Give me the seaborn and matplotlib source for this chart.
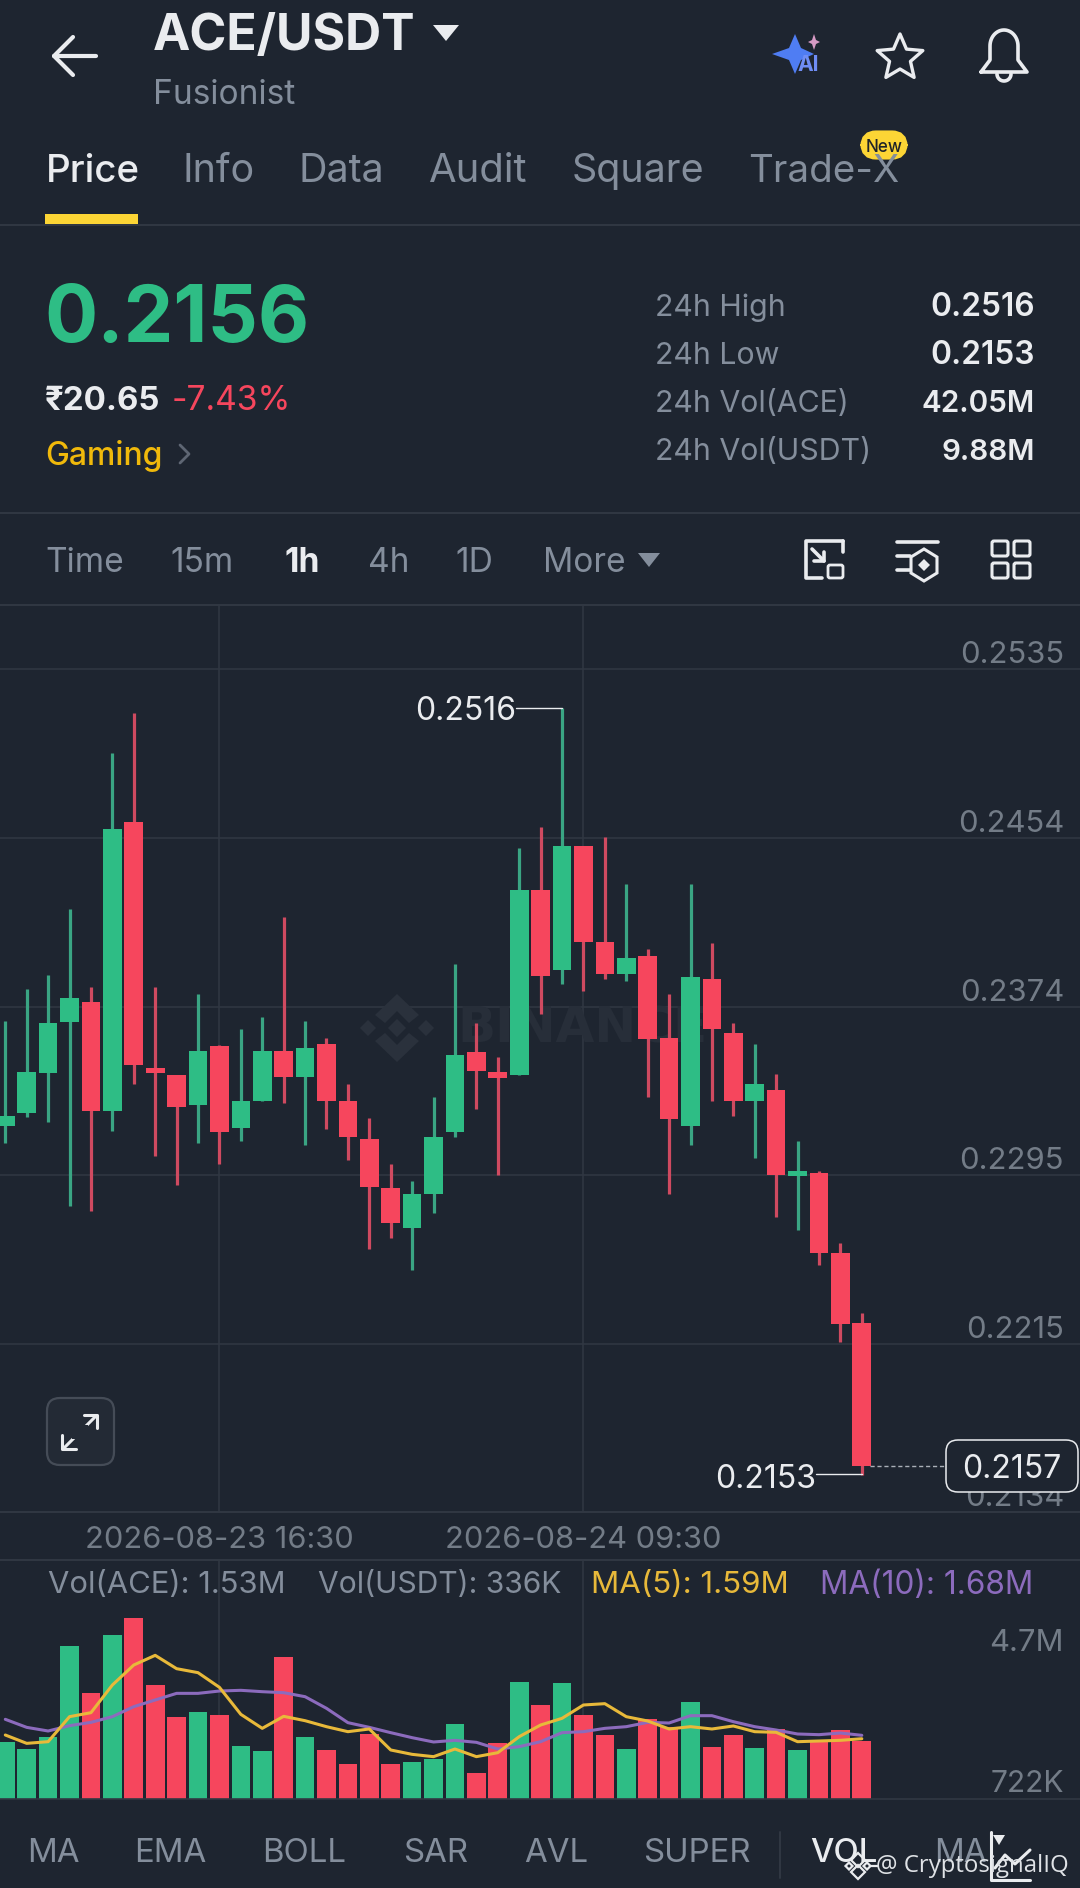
import numpy as np
import pandas as pd
import matplotlib
matplotlib.use('Agg')
import matplotlib.pyplot as plt
from matplotlib.patches import FancyBboxPatch, Polygon, Rectangle
import seaborn as sns

# candle values
opens = [.23178, .23238, .23428, .23671, .23768, .23247, .24622, .23456, .23419, .23278, .23558,
         .23168, .23298, .23537, .23409, .23567, .23298, .23118, .22884, .22694, .22856, .23148,
         .23528, .23436, .23421, .24299, .23921, .24511, .24051, .23901, .23988, .23595, .23177,
         .23879, .23618, .23299, .23347, .22939, .22953, .22573, .22239]
closes = [.23225, .23437, .23669, .23789, .23247, .24592, .23469, .23428, .23268, .23537, .23148,
          .23296, .23537, .23409, .23547, .23298, .23127, .22886, .22715, .22854, .23125, .23518,
          .23439, .23406, .24299, .23891, .24511, .24053, .23901, .23979, .23590, .23210, .23889,
          .23640, .23299, .23376, .22946, .22966, .22575, .22234, .21560]
highs = [.23678, .23829, .23898, .24209, .23838, .24954, .25143, .23838, .23419, .23808, .23565,
         .23637, .23697, .24171, .23678, .23597, .23377, .23217, .22995, .22915, .23317, .23949,
         .23668, .23506, .24501, .24601, .25165, .24511, .24553, .24329, .24018, .23807, .24329,
         .24048, .23668, .23566, .23426, .23105, .22963, .22623, .22289]
lows = [.23099, .23219, .23197, .22798, .22775, .23155, .23379, .23037, .22898, .23099, .22995,
        .23108, .23298, .23289, .23088, .23166, .23018, .22595, .22646, .22495, .22766, .23128,
        .23259, .22946, .23421, .23710, .23852, .23819, .23879, .23869, .23317, .22854, .23088,
        .23299, .23227, .23026, .22744, .22685, .22516, .22152, .21520]

# volume in millions
volumes = [1.495, 1.328, 1.627, 4.036, 2.796, 4.326, 4.775, 3.007, 2.172, 2.286, 2.225, 1.407,
           1.275, 3.746, 1.636, 1.301, .923, 1.715, .914, .967, 1.064, 1.987, .695, 1.486, 3.086,
           2.471, 3.060, 2.216, 1.688, 1.328, 2.102, 1.908, 2.550, 1.372, 1.679, 1.354, 1.838,
           1.284, 1.512, 1.811, 1.53]
ma5 = [1.688, 1.468, 1.512, 2.172, 2.277, 3.007, 3.535, 3.790, 3.438, 3.333, 2.946, 2.233, 1.864,
       2.181, 2.066, 1.908, 1.776, 1.847, 1.293, 1.178, 1.117, 1.319, 1.117, 1.222, 1.644, 1.952,
       2.128, 2.480, 2.515, 2.172, 2.058, 1.847, 1.908, 1.847, 1.926, 1.776, 1.759, 1.512, 1.530,
       1.548, 1.59]
ma10 = [2.102, 1.890, 1.794, 1.934, 2.022, 2.172, 2.436, 2.612, 2.787, 2.787, 2.849, 2.867, 2.831,
        2.805, 2.699, 2.392, 2.014, 1.890, 1.750, 1.618, 1.504, 1.548, 1.495, 1.319, 1.381, 1.512,
        1.750, 1.776, 1.864, 1.908, 2.022, 2.005, 2.198, 2.198, 2.040, 1.908, 1.820, 1.715, 1.697,
        1.741, 1.68]

# gridline levels (labels on the chart are rounded)
price_ticks = [0.2535, 0.24548, 0.23746, 0.22944, 0.22142, 0.2134]
price_labels = ['0.2535', '0.2454', '0.2374', '0.2295', '0.2215', '0.2134']
time_ticks = [10, 27]
time_labels = ['2026-08-23 16:30', '2026-08-24 09:30']

tabs = ['Price', 'Info', 'Data', 'Audit', 'Square', 'Trade-X']
stat_names = ['24h High', '24h Low', '24h Vol(ACE)', '24h Vol(USDT)']
stat_values = ['0.2516', '0.2153', '42.05M', '9.88M']
intervals = ['Time', '15m', '1h', '4h', '1D', 'More']
indicators = ['MA', 'EMA', 'BOLL', 'SAR', 'AVL', 'SUPER']

BG = '#1e2530'
GRID = '#313843'
GREEN = '#2ebd85'
RED = '#f6465d'
WICK_G = '#3aa583'
WICK_R = '#cf4a60'
GREY = '#848e9c'
AXIS_GREY = '#737c87'
WHITE = '#eaecef'
YELLOW = '#f0b90b'
MA5_C = '#e8b93a'
MA10_C = '#8c6bbd'
MARK = '#2a313c'

sns.set_theme(style='dark', rc={'figure.facecolor': BG, 'axes.facecolor': BG,
                                'savefig.facecolor': BG, 'axes.grid': False})
plt.rcParams['font.family'] = ['Inter', 'DejaVu Sans']

W, H = 1080, 1888
fig = plt.figure(figsize=(W / 100, H / 100), dpi=100)


def px_axes(top, bottom):
    return fig.add_axes([0, 1 - bottom / H, 1, (bottom - top) / H])


def fs(px):
    return px * 0.72


idx = np.arange(len(opens))
opens_a, closes_a = np.array(opens), np.array(closes)
is_up = closes_a > opens_a
x_lim = (-0.2475, 50.19)

# ---- price panel
ax = px_axes(605, 1512)
ax.set_facecolor(BG)
for p in price_ticks[:-1]:
    ax.axhline(p, color=GRID, lw=1.1, zorder=1)
for t in time_ticks:
    ax.axvline(t, color=GRID, lw=1.1, zorder=1)

ax.vlines(idx[is_up], np.array(lows)[is_up], np.array(highs)[is_up], color=WICK_G, lw=2.3, zorder=3)
ax.vlines(idx[~is_up], np.array(lows)[~is_up], np.array(highs)[~is_up], color=WICK_R, lw=2.3, zorder=3)

for mask, col in ((is_up, GREEN), (~is_up, RED)):
    body_low = np.minimum(opens_a, closes_a)[mask]
    body_h = np.abs(closes_a - opens_a)[mask]
    sns.barplot(x=idx[mask], y=body_h, bottom=body_low, native_scale=True, color=col, saturation=1,
                width=0.87, errorbar=None, linewidth=0, ax=ax, zorder=4)

ax.set_xlim(*x_lim)
ax.set_ylim(0.21342, 0.25656)
ax.set_xlabel('')
ax.set_ylabel('')
ax.set_xticks([])
ax.set_yticks([])
sns.despine(ax=ax, left=True, bottom=True)

# ---- volume panel
ax2 = px_axes(1560, 1799)
ax2.set_facecolor(BG)
for t in time_ticks:
    ax2.axvline(t, color=GRID, lw=1.1, zorder=1)
vol_df = pd.DataFrame({'i': idx, 'vol': volumes, 'side': np.where(is_up, 'up', 'down')})
sns.barplot(data=vol_df, x='i', y='vol', hue='side', palette={'up': GREEN, 'down': RED},
            native_scale=True, dodge=False, saturation=1, width=0.87, errorbar=None,
            linewidth=0, legend=False, ax=ax2, zorder=3)
sns.lineplot(x=idx, y=ma10, color=MA10_C, lw=2.2, ax=ax2, zorder=4)
sns.lineplot(x=idx, y=ma5, color=MA5_C, lw=2.2, ax=ax2, zorder=5)
ax2.set_xlim(*x_lim)
ax2.set_ylim(0, 6.305)
ax2.set_xlabel('')
ax2.set_ylabel('')
ax2.set_xticks([])
ax2.set_yticks([])
sns.despine(ax=ax2, left=True, bottom=True)

# ---- overlay in pixel coords, everything that isn't data
ov = fig.add_axes([0, 0, 1, 1], zorder=10)
ov.set_xlim(0, W)
ov.set_ylim(H, 0)
ov.axis('off')
ov.patch.set_alpha(0)


def label(x, y, s, size, color=GREY, ha='left', weight='normal', **kw):
    return ov.text(x, y + 5, s, fontsize=fs(size), color=color, ha=ha, va='center', fontweight=weight, **kw)


def stroke(xs, ys, color=WHITE, lw=2.4, **kw):
    ov.plot(xs, ys, color=color, lw=lw, solid_capstyle='round', solid_joinstyle='round', **kw)


for y in (225, 513, 605, 1512, 1560):
    ov.plot([0, W], [y, y], color=GRID, lw=1.4, zorder=0)
ov.plot([0, W], [1799, 1799], color=GRID, lw=1.2, zorder=0)

# header
stroke([54, 96], [56, 56], lw=3)
stroke([73, 54, 73], [37, 56, 75], lw=3)
label(153, 32, 'ACE/USDT', 50, WHITE, weight='bold')
ov.add_patch(Polygon([[433, 25], [459, 25], [446, 41]], closed=True, color=WHITE, ec='none'))
label(153, 90, 'Fusionist', 33.5)

# ai star
ai_star = [[795, 34], [801, 48], [814, 54], [801, 60], [795, 74], [789, 60], [772, 54], [789, 48]]
ov.add_patch(Polygon(ai_star, closed=True, color='#4f7df3', ec='none'))
ov.add_patch(Polygon([[814, 34], [816, 40], [820, 42], [816, 44], [814, 50], [812, 44], [808, 42], [812, 40]],
                     closed=True, color='#d69ac4', ec='none'))
label(798, 60, 'AI', 21, '#6f8df5', weight='bold')

# star
star_pts = []
for k in range(10):
    r = 24 if k % 2 == 0 else 11
    a = -np.pi / 2 + k * np.pi / 5
    star_pts.append([900 + r * np.cos(a), 58 + r * np.sin(a)])
ov.add_patch(Polygon(star_pts, closed=True, fill=False, ec=WHITE, lw=2.4, joinstyle='round'))

# bell
t = np.linspace(np.pi, 0, 30)
bell_x = list(1004 + 14 * np.cos(t))
bell_y = list(46 + 16 * np.sin(t) * -1)
stroke([981, 990] + bell_x + [1018, 1027, 981], [72, 60] + bell_y + [60, 72, 72], lw=2.6)
t = np.linspace(0, np.pi, 20)
stroke(1004 + 7 * np.cos(t), 74 + 7 * np.sin(t), lw=2.6)

# tabs
tab_x = [46, 182, 299, 429, 572, 748]
tab_sizes = [38.5, 39.5, 39.5, 40, 39.5, 38.5]
for i, (tx, s) in enumerate(zip(tab_x, tabs)):
    label(tx, 167, s, tab_sizes[i], WHITE if i == 0 else GREY, weight='medium' if i == 0 else 'normal')
ov.add_patch(Rectangle((45, 214), 93, 10, color='#fcd535', ec='none'))
ov.add_patch(FancyBboxPatch((866, 136), 36, 18, boxstyle='round,pad=0,rounding_size=10', fc='#fcd535', ec='#fcd535', lw=8))
label(884, 142, 'New', 17, '#1e2329', ha='center', weight='medium')

# price block
label(44, 316, '0.2156', 79, GREEN, weight='bold')
label(45, 396, '₹20.65', 33, WHITE, weight='bold')
label(172, 396, '-7.43%', 33.5, RED)
label(45, 451, 'Gaming', 32, YELLOW, weight='medium')
stroke([180, 189, 180], [445, 454, 463], color='#5e6673', lw=2)
stat_sizes = [31.7, 31.7, 29.7, 29.6]
for y, name, val, sz in zip([303, 351, 399, 447], stat_names, stat_values, stat_sizes):
    label(655, y, name, 30.3)
    label(1035, y, val, sz, WHITE, ha='right', weight='semibold')

# interval row
int_x = [45, 170, 284, 368, 455, 543]
for tx, s in zip(int_x, intervals):
    label(tx, 558, s, 33.5, WHITE if s == '1h' else GREY, weight='bold' if s == '1h' else 'normal')
ov.add_patch(Polygon([[638, 553], [660, 553], [649, 567]], closed=True, color=GREY, ec='none'))

# toolbar icons
stroke([822, 806, 806, 843], [578, 578, 541, 541], lw=2.6)
stroke([843, 843], [541, 552], lw=2.6)
stroke([812, 824], [549, 561], lw=2.6)
stroke([824, 824, 814], [552, 561, 561], lw=2.6)
ov.add_patch(FancyBboxPatch((828, 565), 15, 13, boxstyle='round,pad=0,rounding_size=2', fill=False, ec=WHITE, lw=2))
stroke([897, 938], [542, 542], lw=2.6)
stroke([897, 910], [556, 556], lw=2.6)
stroke([897, 910], [570, 570], lw=2.6)
hex_pts = [[924 + 15 * np.sin(a), 565 + 16 * np.cos(a)] for a in np.linspace(0, 2 * np.pi, 7)[:-1]]
ov.add_patch(Polygon(hex_pts, closed=True, fill=False, ec=WHITE, lw=2.2))
ov.add_patch(Polygon([[924, 559], [930, 565], [924, 571], [918, 565]], closed=True, color=WHITE, ec='none'))
for gx in (992, 1014):
    for gy in (541, 563):
        ov.add_patch(FancyBboxPatch((gx, gy), 16, 15, boxstyle='round,pad=0,rounding_size=2', fill=False, ec=WHITE, lw=2.2))

# faint logo behind the candles
logo_y = 1028
logo_top = [[397, logo_y - 34], [419, logo_y - 13], [409, logo_y - 5], [397, logo_y - 17], [385, logo_y - 5], [375, logo_y - 13]]
logo_bot = [[397, logo_y + 34], [419, logo_y + 13], [409, logo_y + 5], [397, logo_y + 17], [385, logo_y + 5], [375, logo_y + 13]]
for pts in (logo_top, logo_bot):
    ov.add_patch(Polygon(pts, closed=True, color=MARK, ec='none', zorder=0))
for cx, r in ((397, 9), (368, 8), (426, 8)):
    ov.add_patch(Polygon([[cx, logo_y - r], [cx + r, logo_y], [cx, logo_y + r], [cx - r, logo_y]],
                         closed=True, color=MARK, ec='none', zorder=0))
ax.text((582 - 5.3) / 21.41, 0.2535 - (1029 - 669.4) * 4.757e-5, 'BINANCE', color='#272e39', fontsize=fs(50),
        fontweight='bold', family=['DejaVu Sans'], ha='center', va='center', zorder=2)

# price axis labels
for p, s in zip(price_ticks, price_labels):
    ax.annotate(s, xy=(1, p), xycoords=('axes fraction', 'data'), xytext=(-11.5, 0), textcoords='offset points',
                ha='right', va='bottom', color=AXIS_GREY, fontsize=fs(31), zorder=6, annotation_clip=False)

# high / low callouts
label(516, 706, '0.2516', 32, WHITE, ha='right')
ov.plot([516, 562], [708, 708], color=WHITE, lw=1)
label(816, 1474, '0.2153', 32, WHITE, ha='right')
ov.plot([816, 862], [1474, 1474], color=WHITE, lw=1)

# last price box
ov.plot([870, 946], [1466, 1466], color='#aab0b8', lw=1, ls=(0, (3, 2)))
ov.add_patch(FancyBboxPatch((946, 1440), 132, 52, boxstyle='round,pad=0,rounding_size=12', fc=BG, ec=WHITE, lw=1.1))
label(1012, 1465, '0.2157', 32, WHITE, ha='center')

# expand button
ov.add_patch(FancyBboxPatch((47, 1398), 67, 67, boxstyle='round,pad=0,rounding_size=13', fc='#232a35', ec='#454c57', lw=1.6))
stroke([64, 96], [1448, 1416], lw=2.2)
ov.add_patch(Rectangle((72, 1425), 16, 14, color='#232a35', ec='none', zorder=3))
stroke([84, 97, 97], [1415, 1415, 1428], lw=2.2)
stroke([62, 62, 76], [1435, 1449, 1449], lw=2.2)

# time labels
for t_i, s in zip(time_ticks, time_labels):
    label(5.3 + 21.41 * t_i, 1535, s, 30.8, AXIS_GREY, ha='center')

# volume legend
label(48, 1580, 'Vol(ACE): 1.53M', 31, GREY)
label(318, 1580, 'Vol(USDT): 336K', 30, GREY)
label(591, 1580, 'MA(5): 1.59M', 31.3, MA5_C)
label(820, 1580, 'MA(10): 1.68M', 31.5, MA10_C)
label(1064, 1638, '4.7M', 31, AXIS_GREY, ha='right')
label(1064, 1779, '722K', 30, AXIS_GREY, ha='right')

# indicator row
ind_x = [27, 134, 262, 403, 524, 643]
for tx, s in zip(ind_x, indicators):
    label(tx, 1849, s, 33, GREY)
ov.plot([780, 780], [1832, 1878], color=GRID, lw=1.4)
label(810, 1849, 'VOL', 33, WHITE, weight='medium')
label(934, 1849, 'MA', 33, GREY)
stroke([991, 991, 1030], [1832, 1880, 1880], lw=2.2)
stroke([995, 1005, 1015, 1030], [1868, 1855, 1864, 1850], lw=2.2)
ov.add_patch(Polygon([[993, 1835], [1005, 1835], [999, 1845]], closed=True, color=WHITE, ec='none'))

# repost watermark
for cx, cy, r in ((858, 1860, 7), (858, 1872, 7), (849, 1866, 3.5), (867, 1866, 3.5)):
    ov.add_patch(Polygon([[cx, cy - r], [cx + r, cy], [cx, cy + r], [cx - r, cy]], closed=True, fill=False, ec=WHITE, lw=1.6))
ov.plot([870, 878], [1866, 1866], color=WHITE, lw=1.6)
label(876, 1861, '@ CryptosignalIQ', 24, '#dfe2e6', family=['Open Sans', 'DejaVu Sans'])

fig.savefig('out.png', dpi=100, facecolor=BG)
